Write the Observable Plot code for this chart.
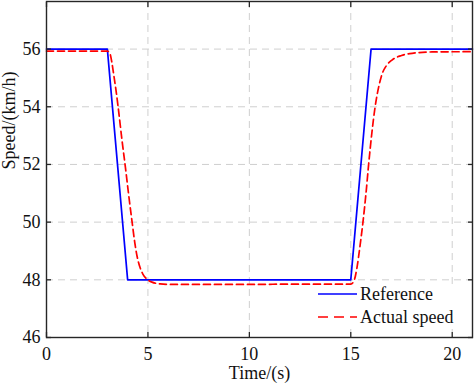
<!DOCTYPE html>
<html>
<head>
<meta charset="utf-8">
<script src="https://cdn.jsdelivr.net/npm/d3@7"></script>
<script src="https://cdn.jsdelivr.net/npm/@observablehq/plot@0.6"></script>
<style>
  html, body { margin: 0; padding: 0; background: #fff; }
  #wrap { width: 474px; height: 384px; }
</style>
</head>
<body>
<div id="wrap"></div>
<script>
// Reference speed profile
const refTime  = [0, 3, 4, 15, 16, 21];
const refSpeed = [56, 56, 48, 48, 56, 56];

// Actual speed
const actTime  = [0, 3.0, 3.08, 3.15, 3.22, 3.31, 3.42, 3.53, 3.72, 3.89, 4.05, 4.22, 4.35, 4.47, 4.6, 4.75, 4.96, 5.2, 5.6, 6.2, 8, 10, 12, 14, 15.0,
                  15.15, 15.3, 15.45, 15.6, 15.75, 15.88, 16.04, 16.2, 16.38, 16.54, 16.75, 17.03, 17.5, 18.1, 19, 21];
const actSpeed = [55.93, 55.93, 55.9, 55.8, 55.55, 55.13, 54.6, 54.0, 52.85, 51.9, 50.95, 50.0, 49.3, 48.8, 48.45, 48.2, 48.02, 47.92, 47.86, 47.84, 47.84, 47.84, 47.85, 47.85, 47.85,
                  47.95, 48.4, 49.15, 50.0, 51.0, 52.0, 53.1, 54.0, 54.7, 55.13, 55.42, 55.62, 55.78, 55.86, 55.9, 55.91];

const xTicks = [0, 5, 10, 15, 20];
const yTicks = [46, 48, 50, 52, 54, 56];
const xLabel = "Time/(s)";
const yLabel = "Speed/(km/h)";
const seriesNames = ["Reference", "Actual speed"];
const seriesColors = ["#0000ff", "#ff0000"];

const refData = refTime.map((t, i) => ({t, v: refSpeed[i]}));
const actData = actTime.map((t, i) => ({t, v: actSpeed[i]}));

const axisColor = "#262626";
const fontStack = "Times, 'Times New Roman', 'Liberation Serif', Tinos, serif";
const fs = 18;

// warm up the serif font
const ctx = document.createElement("canvas").getContext("2d");
["Times", "Times New Roman", "Liberation Serif"].forEach(f => { ctx.font = `${fs}px "${f}", monospace`; ctx.measureText("Time/(s) 0123456789"); });

const gridStyle = {stroke: "#cfcfcf", strokeOpacity: 1, strokeWidth: 1, strokeDasharray: "7,5"};
const tickStyle = {text: null, label: null, tickSize: 5, stroke: axisColor, strokeWidth: 1.3};

function draw() {
  const chart = Plot.plot({
    width: 474,
    height: 384,
    marginLeft: 46,
    marginRight: 2,
    marginTop: 1,
    marginBottom: 47,
    style: {fontFamily: fontStack, fontSize: fs + "px", color: "#111", background: "#fff"},
    x: {domain: [0, 21], ticks: xTicks},
    y: {domain: [46, 57.65], ticks: yTicks},
    marks: [
      Plot.gridX(xTicks, gridStyle),
      Plot.gridY(yTicks, gridStyle),
      Plot.line(refData, {x: "t", y: "v", stroke: seriesColors[0], strokeWidth: 1.7}),
      Plot.line(actData, {x: "t", y: "v", stroke: seriesColors[1], strokeWidth: 1.7, strokeDasharray: "7,4", curve: "monotone-x"}),
      Plot.frame({stroke: axisColor, strokeWidth: 1.4}),
      Plot.axisX(xTicks, {anchor: "bottom", tickSize: 0, tickPadding: 10, label: null, fill: "#111", fontSize: fs, fontFamily: fontStack}),
      Plot.axisY(yTicks, {anchor: "left", tickSize: 0, tickPadding: 6, label: null, fill: "#111", fontSize: fs, fontFamily: fontStack}),
      Plot.axisX(xTicks, {anchor: "bottom", dy: -5, ...tickStyle}),
      Plot.axisX(xTicks, {anchor: "top", dy: 5, ...tickStyle}),
      Plot.axisY(yTicks, {anchor: "left", dx: 5, ...tickStyle}),
      Plot.axisY(yTicks, {anchor: "right", dx: -5, ...tickStyle}),
      Plot.text([xLabel], {frameAnchor: "bottom", dy: 36, lineAnchor: "middle", fill: "#111", fontSize: fs, fontFamily: fontStack}),
      Plot.text([yLabel], {frameAnchor: "left", rotate: -90, dx: -37, lineAnchor: "middle", fill: "#111", fontSize: fs, fontFamily: fontStack})
    ]
  });
  chart.style.display = "block";

  // Legend (inside the chart's SVG, white box without border)
  const lg = d3.select(chart).append("g").attr("transform", "translate(312,287)")
    .attr("font-family", fontStack).attr("font-size", fs).attr("text-anchor", "start");
  lg.append("rect").attr("width", 152).attr("height", 42).attr("fill", "#ffffff");
  seriesNames.forEach((name, i) => {
    const yy = 7 + i * 23;
    lg.append("line").attr("x1", 6).attr("x2", 45).attr("y1", yy).attr("y2", yy)
      .attr("stroke", seriesColors[i]).attr("stroke-width", 1.7)
      .attr("stroke-dasharray", i === 1 ? "10,6" : null);
    lg.append("text").attr("x", 48).attr("y", yy + 6).attr("fill", "#111")
      .style("font-family", fontStack).text(name);
  });
  const wrap = document.getElementById("wrap");
  wrap.innerHTML = "";
  wrap.appendChild(chart);
}
draw();
if (document.fonts && document.fonts.load) {
  Promise.all(["Times", "Times New Roman", "Liberation Serif"].map(f => document.fonts.load(`${fs}px "${f}"`))).then(draw, () => {});
}
</script>
</body>
</html>
